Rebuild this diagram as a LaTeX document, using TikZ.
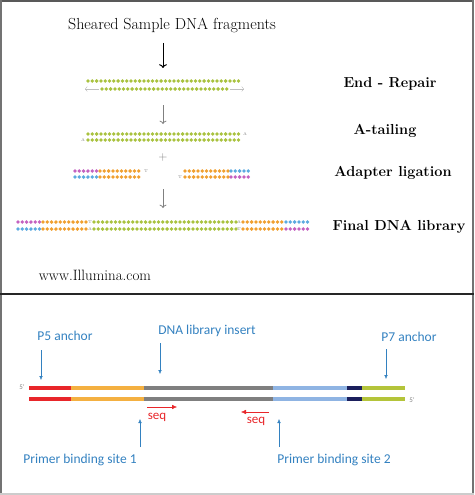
\documentclass[tikz,border=0pt]{standalone}
\usepackage{fontspec}
\newfontfamily\calibri{Carlito}
\usetikzlibrary{arrows.meta}

\definecolor{beadgreen}{HTML}{A9C23F}
\definecolor{beadorange}{HTML}{F0A030}
\definecolor{beadpurple}{HTML}{C462C0}
\definecolor{beadblue}{HTML}{5CAAE0}
\definecolor{labelblue}{HTML}{3381C0}
\definecolor{seqred}{HTML}{E8262A}
\definecolor{adorange}{HTML}{F4B041}
\definecolor{insertgray}{HTML}{7F7F7F}
\definecolor{pbsblue}{HTML}{8FB4E3}
\definecolor{indexnavy}{HTML}{1B1F5C}
\definecolor{p7green}{HTML}{B4C43A}

% one row of beads: colour, first x, last x, y
\newcommand\beadrow[4]{%
  \pgfmathtruncatemacro\nbeads{(#3-#2)/4.3}%
  \foreach \i in {0,...,\nbeads} {\fill[#1] (#2+\i*4.3,#4) circle (1.9pt);}}

\tikzset{
  steplabel/.style={font=\fontsize{14.5}{16}\selectfont\bfseries},
  base/.style={font=\fontsize{4}{4}\selectfont, text=gray, inner sep=0pt},
  strand/.style={line width=4pt},
  bluelabel/.style={font=\calibri\fontsize{13.5}{15}\selectfont, text=labelblue},
  pointer/.style={draw=labelblue, -{Latex[length=4pt,width=3.5pt]}},
  seqarrow/.style={draw=seqred, -{Latex[length=5pt,width=4.5pt]}}
}

\begin{document}
\begin{tikzpicture}[x=1pt,y=-1pt]
\useasboundingbox (0,0) rectangle (474,495);
% frames
\draw[line width=2pt, black!65] (1,1) -- (473,1);
\draw[line width=2pt, black!55] (1,0) -- (1,495);
\draw[line width=2pt, black!55] (472.5,0) -- (472.5,495);
\draw[line width=2pt, black!85] (0,294) -- (474,294);
\draw[line width=1.5pt, black!20] (0,494) -- (474,494);

% top panel
\node (sheared) at (172,25) {\fontsize{16}{18}\selectfont Sheared Sample DNA fragments};
\coordinate (a0) at (163,43);
\coordinate (a1) at (163,68);
\draw[->, line width=1pt] (a0) -- (a1);

\beadrow{beadgreen}{88}{240}{81}
\beadrow{beadgreen}{102}{227}{89}
\draw[->, gray!50, thin] (99,89) -- (85,89);
\draw[->, gray!50, thin] (230,89) -- (244,89);
\node[steplabel] (endrepair) at (390,84) {End - Repair};

\coordinate (a2s) at (163,105);
\coordinate (a2e) at (163,124);
\draw[->, gray, line width=0.8pt] (a2s) -- (a2e);

\beadrow{beadgreen}{88}{240}{134}
\beadrow{beadgreen}{88}{240}{140}
\node[base] (atail1) at (245,134) {A};
\node[base] (atail2) at (83,140) {A};
\node[steplabel] (atailing) at (385,131) {A-tailing};

\node[gray, font=\large] (plus) at (163,158) {+};

\beadrow{beadpurple}{75}{98}{171}
\beadrow{beadorange}{100}{142}{171}
\beadrow{beadblue}{75}{98}{177}
\beadrow{beadorange}{100}{142}{177}
\node[base] (tleft) at (146,171) {T};
\beadrow{beadorange}{185}{229}{171}
\beadrow{beadblue}{231}{252}{171}
\beadrow{beadorange}{185}{229}{177}
\beadrow{beadpurple}{231}{252}{177}
\node[base] (tright) at (180,177) {T};
\node[steplabel] (ligation) at (393,173) {Adapter ligation};

\coordinate (a3s) at (163,189);
\coordinate (a3e) at (163,208);
\draw[->, gray, line width=0.8pt] (a3s) -- (a3e);

\beadrow{beadpurple}{18}{41}{222}
\beadrow{beadorange}{43}{86}{222}
\node[base] (lib1) at (90,222) {T};
\beadrow{beadgreen}{94}{236}{222}
\node[base] (lib2) at (239,222) {A};
\beadrow{beadorange}{243}{284}{222}
\beadrow{beadblue}{286}{311}{222}
\beadrow{beadblue}{18}{41}{229}
\beadrow{beadorange}{43}{86}{229}
\node[base] (lib3) at (90,229) {A};
\beadrow{beadgreen}{94}{236}{229}
\node[base] (lib4) at (239,229) {T};
\beadrow{beadorange}{243}{284}{229}
\beadrow{beadpurple}{286}{311}{229}
\node[steplabel] (final) at (399,227) {Final DNA library};

\node (web) at (95,275) {\fontsize{15}{17}\selectfont www.Illumina.com};

% bottom panel
\node[bluelabel] (p5) at (65,336) {P5 anchor};
\node[bluelabel] (insert) at (207,331) {DNA library insert};
\node[bluelabel] (p7) at (409,337) {P7 anchor};
\coordinate (p5a) at (41,350);
\coordinate (p5b) at (41,380);
\coordinate (ina) at (160,343);
\coordinate (inb) at (160,374);
\coordinate (p7a) at (386,349);
\coordinate (p7b) at (386,379);
\draw[pointer] (p5a) -- (p5b);
\draw[pointer] (ina) -- (inb);
\draw[pointer] (p7a) -- (p7b);

\draw[strand, seqred] (29,388) -- (71,388);
\draw[strand, adorange] (71,388) -- (144,388);
\draw[strand, insertgray] (144,388) -- (273,388);
\draw[strand, pbsblue] (273,388) -- (347,388);
\draw[strand, indexnavy] (347,388) -- (362,388);
\draw[strand, p7green] (362,388) -- (405,388);
\draw[strand, seqred] (29,399) -- (71,399);
\draw[strand, adorange] (71,399) -- (144,399);
\draw[strand, insertgray] (144,399) -- (273,399);
\draw[strand, pbsblue] (273,399) -- (347,399);
\draw[strand, indexnavy] (347,399) -- (362,399);
\draw[strand, p7green] (362,399) -- (405,399);
\node[text=gray, font=\calibri\fontsize{7}{8}\selectfont, inner sep=0pt] (five1) at (22,387) {5'};
\node[text=gray, font=\calibri\fontsize{7}{8}\selectfont, inner sep=0pt] (five2) at (412,400) {5'};

\coordinate (s1a) at (147,407);
\coordinate (s1b) at (177,407);
\draw[seqarrow] (s1a) -- (s1b);
\node[text=seqred, font=\calibri\fontsize{13}{14}\selectfont] (seq1) at (157,417) {seq};
\coordinate (s2a) at (269,412);
\coordinate (s2b) at (241,412);
\draw[seqarrow] (s2a) -- (s2b);
\node[text=seqred, font=\calibri\fontsize{13}{14}\selectfont] (seq2) at (256,421) {seq};

\coordinate (pb1a) at (140,447);
\coordinate (pb1b) at (140,419);
\coordinate (pb2a) at (279,447);
\coordinate (pb2b) at (279,419);
\draw[pointer] (pb1a) -- (pb1b);
\draw[pointer] (pb2a) -- (pb2b);
\node[bluelabel] (pbs1) at (80,460) {Primer binding site 1};
\node[bluelabel] (pbs2) at (334,460) {Primer binding site 2};
\end{tikzpicture}
\end{document}
